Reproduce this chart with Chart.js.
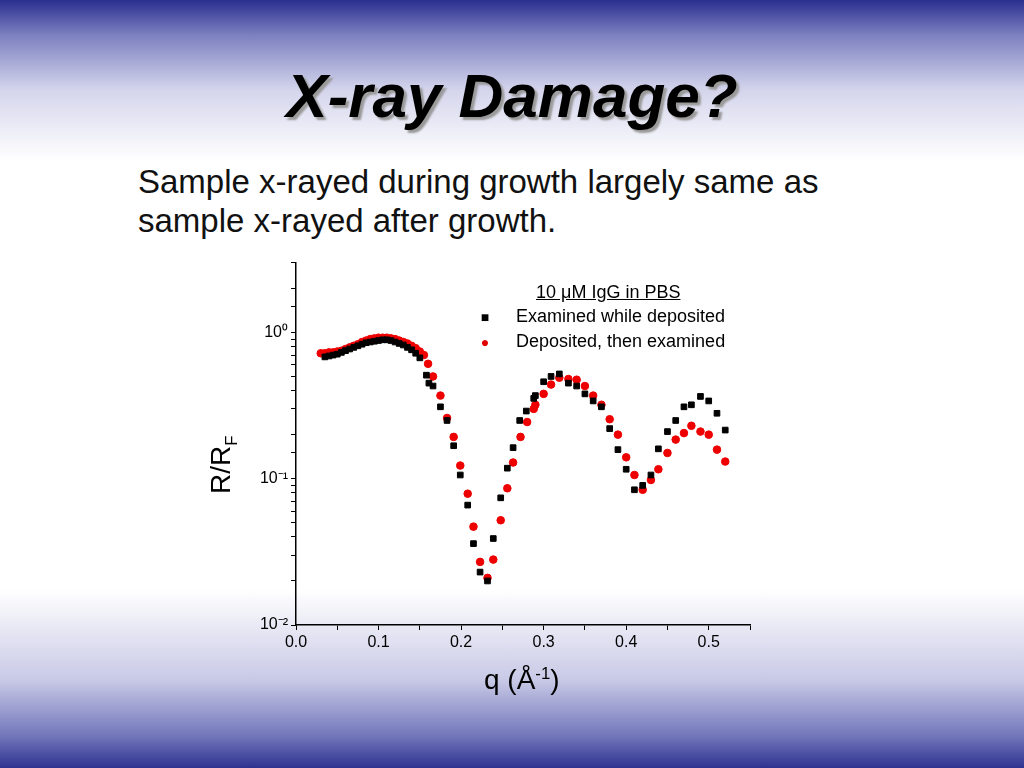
<!DOCTYPE html>
<html>
<head>
<meta charset="utf-8">
<script src="https://cdn.jsdelivr.net/npm/chart.js@4"></script>
<style>
  html, body { margin: 0; padding: 0; }
  body {
    width: 1024px; height: 768px; position: relative; overflow: hidden;
    font-family: Arial, "Liberation Sans", sans-serif;
    background: linear-gradient(to bottom, #2b2f8f 0px, #7c80c0 35px, #d4d5ec 90px, #ffffff 160px, #ffffff 590px, #c8c9e6 680px, #7478bb 735px, #2f3390 768px);
  }
  #title {
    position: absolute; left: 0; width: 1024px; top: 60px; text-align: center;
    font-size: 62px; font-weight: bold; font-style: italic; color: #000;
    text-shadow: 3px 3px 2px #9a9a9a;
  }
  #sub { position: absolute; left: 138px; top: 162px; font-size: 33px; line-height: 39px; color: #111; }
  #wrap { position: absolute; left: 190px; top: 250px; width: 580px; height: 460px; }
  #legend { position: absolute; left: 474px; top: 280px; font-size: 18px; line-height: 24px; }
  #legend .t { text-decoration: underline; padding-left: 62px; }
  #legend .row span.m { display: inline-block; width: 22px; margin-right: 20px; text-align: center; font-size: 14px; }
  #ylab { position: absolute; left: 205px; top: 494px; font-size: 28px; transform: rotate(-90deg); transform-origin: left top; }
  #xlab { position: absolute; left: 484px; top: 664px; font-size: 28px; }
  sup, sub { font-size: 60%; }
</style>
</head>
<body>
<div id="title">X-ray Damage?</div>
<div id="sub">Sample x-rayed during growth largely same as<br>sample x-rayed after growth.</div>
<div id="wrap"><canvas id="c"></canvas></div>
<div id="legend">
  <div class="t">10 &mu;M IgG in PBS</div>
  <div class="row"><span class="m">&#9632;</span>Examined while deposited</div>
  <div class="row"><span class="m" style="color:#e00000">&#9679;</span>Deposited, then examined</div>
</div>
<div id="ylab">R/R<sub>F</sub></div>
<div id="xlab">q (&Aring;<sup>-1</sup>)</div>
<script>
const qWhile = [0.035,0.04,0.045,0.05,0.055,0.06,0.065,0.07,0.075,0.08,0.085,0.09,0.095,0.1,0.105,0.11,0.115,0.12,0.125,0.13,0.135,0.14,0.145,0.15,
  0.158,0.161,0.166,0.175,0.183,0.191,0.199,0.208,0.215,0.223,0.232,0.239,0.248,0.256,0.263,0.271,0.279,0.288,0.29,0.30,0.309,0.319,0.33,0.34,0.35,0.36,0.37,0.38,0.39,0.40,0.41,0.42,0.43,0.439,0.45,0.46,0.47,0.479,0.49,0.50,0.51,0.52];
const rWhile = [0.68,0.69,0.70,0.71,0.73,0.75,0.77,0.79,0.81,0.83,0.85,0.86,0.87,0.88,0.89,0.89,0.88,0.86,0.84,0.82,0.79,0.76,0.72,0.67,
  0.51,0.45,0.43,0.31,0.25,0.168,0.106,0.066,0.036,0.023,0.020,0.039,0.074,0.118,0.163,0.25,0.29,0.354,0.37,0.46,0.50,0.52,0.45,0.43,0.38,0.34,0.31,0.22,0.158,0.116,0.084,0.090,0.106,0.16,0.21,0.25,0.31,0.32,0.365,0.34,0.28,0.215];
const qAfter = [0.03,0.035,0.04,0.045,0.05,0.055,0.06,0.065,0.07,0.075,0.08,0.085,0.09,0.095,0.1,0.105,0.11,0.115,0.12,0.125,0.13,0.135,0.14,0.145,0.15,0.155,
  0.16,0.166,0.175,0.183,0.191,0.199,0.208,0.215,0.223,0.232,0.239,0.248,0.256,0.263,0.272,0.28,0.288,0.29,0.30,0.309,0.319,0.33,0.34,0.35,0.36,0.37,0.38,0.39,0.40,0.41,0.42,0.43,0.439,0.45,0.46,0.47,0.479,0.49,0.50,0.51,0.52];
const rAfter = [0.72,0.72,0.73,0.73,0.74,0.75,0.77,0.79,0.81,0.83,0.86,0.88,0.90,0.91,0.92,0.92,0.92,0.91,0.90,0.88,0.86,0.84,0.81,0.78,0.74,0.70,
  0.61,0.50,0.37,0.26,0.193,0.123,0.079,0.047,0.027,0.021,0.028,0.052,0.086,0.129,0.193,0.244,0.30,0.32,0.38,0.44,0.49,0.48,0.475,0.43,0.37,0.32,0.255,0.20,0.14,0.106,0.084,0.098,0.116,0.15,0.185,0.205,0.23,0.21,0.20,0.158,0.131];
const yTickLabels = { 1: '10\u2070', 0.1: '10\u207B\u00B9', 0.01: '10\u207B\u00B2' };

const pts = (xs, ys) => xs.map((x, i) => ({ x: x, y: ys[i] }));

new Chart(document.getElementById('c'), {
  type: 'scatter',
  data: {
    datasets: [{
      label: 'Examined while deposited',
      data: pts(qWhile, rWhile),
      pointStyle: 'rect', pointRadius: 4, backgroundColor: '#000', borderColor: '#000'
    }, {
      label: 'Deposited, then examined',
      data: pts(qAfter, rAfter),
      pointStyle: 'circle', pointRadius: 3.8, backgroundColor: '#ee0000', borderColor: '#ee0000'
    }]
  },
  options: {
    responsive: true, maintainAspectRatio: false, animation: false,
    layout: { padding: { top: 8, right: 20 } },
    plugins: { legend: { display: false }, tooltip: { enabled: false } },
    scales: {
      x: {
        type: 'linear', min: 0, max: 0.55,
        border: { color: '#000', width: 1.5 },
        grid: { drawOnChartArea: false, color: '#000', tickLength: 5 },
        ticks: {
          stepSize: 0.05, color: '#000', font: { size: 16, family: 'Arial' }, maxRotation: 0, autoSkip: false,
          callback: v => (Math.round(v * 100) % 10 === 0 && v <= 0.5) ? v.toFixed(1) : ''
        },
        afterFit: s => { s.height = 85; }
      },
      y: {
        type: 'logarithmic', min: 0.01, max: 3,
        border: { color: '#000', width: 1.5 },
        grid: { drawOnChartArea: false, color: '#000', tickLength: 5 },
        ticks: {
          color: '#000', font: { size: 16, family: 'Arial' }, autoSkip: false,
          callback: v => yTickLabels[v] || ''
        },
        afterFit: s => { s.width = 106; }
      }
    }
  }
});
</script>
</body>
</html>
